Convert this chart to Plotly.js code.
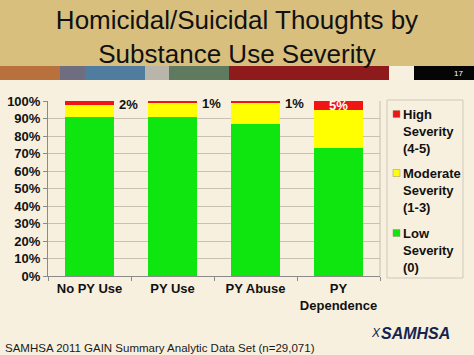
<!DOCTYPE html>
<html>
<head>
<meta charset="utf-8">
<script src="https://cdn.plot.ly/plotly-3.0.1.min.js"></script>
<style>html,body{margin:0;padding:0;background:#F8F0DF;}#chart{width:474px;height:355px;}</style>
</head>
<body>
<div id="chart"></div>
<script>
// ---- data ----
const categories = ['No PY Use', 'PY Use', 'PY Abuse', 'PY<br>Dependence'];
const lowSeverity = [91, 91, 87, 73];
const moderateSeverity = [7, 8, 12, 22];
const highSeverity = [2, 1, 1, 5];
const seriesNames = ['Low<br>Severity<br>(0)', 'Moderate<br>Severity<br>(1-3)', 'High<br>Severity<br>(4-5)'];
const seriesColors = ['#0FE60F', '#FFFF00', '#F01414'];
const yTickVals = [0, 10, 20, 30, 40, 50, 60, 70, 80, 90, 100];
const yTickText = ['0%', '10%', '20%', '30%', '40%', '50%', '60%', '70%', '80%', '90%', '100%'];

// ---- geometry helpers (pixel -> paper) ----
const W = 474, H = 355;
const L = 48, R = 380, T = 101, B = 276;
const px = x => (x - L) / (R - L);
const py = y => (B - y) / (B - T);

const FONT = 'Liberation Sans, Arial, Helvetica, sans-serif';
const BG = '#F8F0DF';

const traces = [lowSeverity, moderateSeverity, highSeverity].map((vals, i) => ({
  type: 'bar',
  x: categories,
  y: vals,
  name: seriesNames[i].replace(/<br>/g, ' '),
  marker: {color: seriesColors[i], line: {width: 0}},
  showlegend: false,
  hoverinfo: 'y+name'
}));

const shapes = [];
// header band
shapes.push({type: 'rect', xref: 'paper', yref: 'paper', x0: px(0), x1: px(W), y0: py(66), y1: py(0),
  fillcolor: '#D8BF7E', line: {width: 0}, layer: 'below'});
// decorative stripe
const stripe = [[0, 60, '#B8703C'], [60, 85, '#6F6D80'], [85, 145, '#4F7C9F'], [145, 169, '#BAB5AA'],
  [169, 229, '#5F7A5F'], [229, 389, '#8E1A1C'], [389, 414, '#F8F0DF'], [414, 474, '#050505']];
stripe.forEach(s => shapes.push({type: 'rect', xref: 'paper', yref: 'paper', x0: px(s[0]), x1: px(s[1]),
  y0: py(80), y1: py(66), fillcolor: s[2], line: {width: 0}, layer: 'below'}));
// plot right border
shapes.push({type: 'line', xref: 'paper', yref: 'paper', x0: 1, x1: 1, y0: 0, y1: 1,
  line: {color: '#C4BDB0', width: 1}});
// legend box
shapes.push({type: 'rect', xref: 'paper', yref: 'paper', x0: px(387), x1: px(463), y0: py(278), y1: py(100),
  fillcolor: 'rgba(0,0,0,0)', line: {color: '#CFC8BA', width: 1}});

const annotations = [];
// legend entries (top to bottom: High, Moderate, Low)
const legendRows = [114, 173, 233];
[2, 1, 0].forEach((si, k) => {
  const yc = legendRows[k];
  shapes.push({type: 'rect', xref: 'paper', yref: 'paper', x0: px(393), x1: px(400), y0: py(yc + 3.5), y1: py(yc - 3.5),
    fillcolor: seriesColors[si], line: {color: '#9a8f70', width: 0.5}});
  annotations.push({xref: 'paper', yref: 'paper', x: px(401), y: py(yc - 9), xanchor: 'left', yanchor: 'top',
    text: '<b>' + seriesNames[si] + '</b>', align: 'left', showarrow: false,
    font: {family: FONT, size: 13, color: '#111'}});
});

// data labels for high severity
highSeverity.forEach((v, i) => {
  const inside = v >= 5;
  annotations.push({
    x: categories[i], y: 100 - v / 2, xref: 'x', yref: 'y',
    text: '<b>' + v + '%</b>', showarrow: false,
    xanchor: inside ? 'center' : 'left', yanchor: 'middle',
    xshift: inside ? 0 : 27, yshift: inside ? 0 : -2,
    font: {family: FONT, size: 13, color: inside ? '#FFFFFF' : '#111'}
  });
});

// slide number
annotations.push({xref: 'paper', yref: 'paper', x: px(458), y: py(73), text: '17', showarrow: false,
  font: {family: FONT, size: 8, color: '#FFFFFF'}, xanchor: 'center', yanchor: 'middle'});
// source footer
annotations.push({xref: 'paper', yref: 'paper', x: px(3), y: py(348), xanchor: 'left', yanchor: 'middle',
  text: 'SAMHSA 2011 GAIN Summary Analytic Data Set (n=29,071)', showarrow: false,
  font: {family: FONT, size: 11.5, color: '#1a1a1a'}});
// logo text
annotations.push({xref: 'paper', yref: 'paper', x: px(452), y: py(333), xanchor: 'right', yanchor: 'middle',
  text: '<b><i>SAMHSA</i></b>', showarrow: false, font: {family: FONT, size: 16, color: '#14244F'}});
annotations.push({xref: 'paper', yref: 'paper', x: px(376), y: py(333), xanchor: 'center', yanchor: 'middle',
  text: '<i>X</i>', showarrow: false, font: {family: FONT, size: 12, color: '#14244F'}});

const layout = {
  width: W, height: H,
  paper_bgcolor: BG, plot_bgcolor: BG,
  margin: {l: L, r: W - R, t: T, b: H - B, pad: 0},
  barmode: 'stack', bargap: 0.41,
  title: {
    text: 'Homicidal/Suicidal Thoughts by<br>Substance Use Severity',
    font: {family: FONT, size: 26, color: '#111'},
    x: 0.5, xref: 'container', xanchor: 'center',
    y: 1 - 29 / H, yref: 'container', yanchor: 'middle'
  },
  xaxis: {
    type: 'category', tickangle: 0,
    tickfont: {family: FONT, size: 13, color: '#111', weight: 'bold'},
    showline: true, linecolor: '#8a8a8a', linewidth: 1,
    ticks: 'outside', tickson: 'boundaries', ticklen: 4, tickcolor: '#8a8a8a',
    showgrid: false, fixedrange: true
  },
  yaxis: {
    range: [0, 100], tickmode: 'array', tickvals: yTickVals, ticktext: yTickText,
    tickfont: {family: FONT, size: 13, color: '#111', weight: 'bold'},
    showline: true, linecolor: '#8a8a8a', linewidth: 1,
    ticks: 'outside', ticklen: 4, tickcolor: '#8a8a8a',
    gridcolor: '#C9C2B3', gridwidth: 1, zeroline: false, fixedrange: true
  },
  shapes: shapes,
  annotations: annotations,
  showlegend: false
};

Plotly.newPlot('chart', traces, layout, {displayModeBar: false, staticPlot: true});
</script>
</body>
</html>
